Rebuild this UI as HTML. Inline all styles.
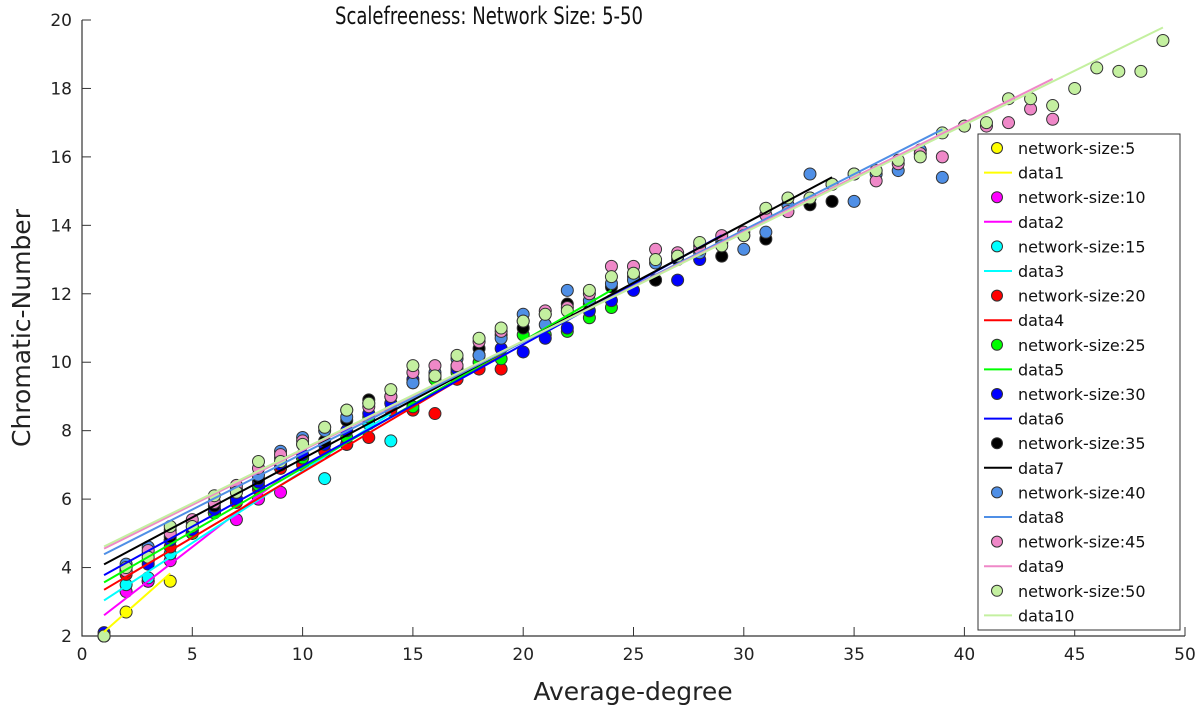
<!DOCTYPE html>
<html><head><meta charset="utf-8"><style>body{margin:0;background:#fff}svg{display:block;font-family:"DejaVu Sans","Liberation Sans",sans-serif}</style></head>
<body>
<svg id="c" width="1200" height="711"></svg>
<script>
const xTicks=[0,5,10,15,20,25,30,35,40,45,50];
const yTicks=[2,4,6,8,10,12,14,16,18,20];
const seriesNames=["network-size:5","network-size:10","network-size:15","network-size:20","network-size:25","network-size:30","network-size:35","network-size:40","network-size:45","network-size:50"];
const fitNames=["data1","data2","data3","data4","data5","data6","data7","data8","data9","data10"];
const colors=["#ffff00","#ff00ff","#00ffff","#ff0000","#00ff00","#0000ff","#000000","#4f8fe6","#ef88c8","#c4f0a0"];
const s5=[2.0,2.7,3.6,3.6];
const s10=[2.0,3.3,3.6,4.2,5.1,5.6,5.4,6.0,6.2];
const s15=[2.0,3.5,3.7,4.4,5.0,5.7,6.0,6.3,6.9,7.2,6.6,7.6,8.2,7.7];
const s20=[2.0,3.8,4.2,4.6,5.0,5.6,5.9,6.3,6.9,7.0,7.4,7.6,7.8,8.6,8.6,8.5,9.5,9.8,9.8];
const s25=[2.0,3.9,4.2,4.8,5.0,5.6,6.0,6.4,7.0,7.2,7.6,7.8,8.4,8.8,8.7,9.5,9.7,10.0,10.1,10.8,10.8,10.9,11.3,11.6];
const s30=[2.1,3.9,4.1,4.8,5.1,5.7,6.0,6.5,7.0,7.3,7.6,8.0,8.5,8.8,9.5,9.6,9.8,10.2,10.4,10.3,10.7,11.0,11.5,11.8,12.1,12.4,12.4,13.0,13.5];
const s35=[2.0,4.0,4.4,4.9,5.2,5.8,6.2,6.6,7.2,7.6,7.7,8.3,8.9,9.0,9.4,9.6,9.9,10.4,10.8,11.0,11.4,11.7,11.7,12.2,12.5,12.4,13.0,13.4,13.1,13.7,13.6,14.6,14.6,14.7];
const s40=[2.0,4.1,4.6,5.1,5.3,5.9,6.3,6.7,7.4,7.8,8.0,8.4,8.8,9.0,9.4,9.7,10.1,10.2,10.7,11.4,11.1,12.1,11.8,12.3,12.4,12.9,13.1,13.2,13.6,13.3,13.8,14.6,15.5,15.2,14.7,15.5,15.6,16.2,15.4];
const s45=[2.0,3.9,4.5,5.0,5.4,5.9,6.4,6.9,7.3,7.7,8.1,8.6,8.7,9.0,9.7,9.9,9.9,10.6,10.9,11.2,11.5,11.6,12.0,12.8,12.8,13.3,13.2,13.3,13.7,13.8,14.3,14.4,14.8,15.2,15.5,15.3,15.8,16.1,16.0,16.9,16.9,17.0,17.4,17.1];
const s50=[2.0,4.0,4.3,5.2,5.2,6.1,6.2,7.1,7.1,7.6,8.1,8.6,8.8,9.2,9.9,9.6,10.2,10.7,11.0,11.2,11.4,11.5,12.1,12.5,12.6,13.0,13.1,13.5,13.4,13.7,14.5,14.8,14.8,15.2,15.5,15.6,15.9,16.0,16.7,16.9,17.0,17.7,17.7,17.5,18.0,18.6,18.5,18.5,19.4];
const allSeries=[s5,s10,s15,s20,s25,s30,s35,s40,s45,s50];

const svg=document.getElementById('c');const NS='http://www.w3.org/2000/svg';
const X0=82,X1=1185,Y0=636,Y1=20;
const sx=v=>X0+(v-0)/(50-0)*(X1-X0);
const sy=v=>Y0-(v-2)/(20-2)*(Y0-Y1);
function mk(t,a,p){const e=document.createElementNS(NS,t);for(const k in a)e.setAttribute(k,a[k]);(p||svg).appendChild(e);return e;}
const ax=mk('path',{d:`M${X0},${Y1}V${Y0}H${X1}`,fill:'none',stroke:'#333','stroke-width':1.2});


xTicks.forEach(t=>{
  const l=mk('line',{x1:sx(t),x2:sx(t),y1:Y0,y2:Y0-9,stroke:'#333'});
  
  
  const tx=mk('text',{x:sx(t),y:Y0+24,'text-anchor':'middle','font-size':17,fill:'#222'});tx.textContent=t;
  
  
});
yTicks.forEach(t=>{
  const l=mk('line',{x1:X0,x2:X0+9,y1:sy(t),y2:sy(t),stroke:'#333'});
  
  
  const tx=mk('text',{x:X0-10,y:sy(t)+6,'text-anchor':'end','font-size':17,fill:'#222'});tx.textContent=t;
  
  
});
const title=mk('text',{x:489,y:24,'text-anchor':'middle','font-size':24,fill:'#111',textLength:308,lengthAdjust:'spacingAndGlyphs'});title.textContent='Scalefreeness: Network Size: 5-50';


const xl=mk('text',{x:633,y:700,'text-anchor':'middle','font-size':25,fill:'#222'});xl.textContent='Average-degree';


const yl=mk('text',{x:0,y:0,'text-anchor':'middle','font-size':25,fill:'#222',transform:'translate(30,328) rotate(-90)'});yl.textContent='Chromatic-Number';


allSeries.forEach((s,i)=>{
  const g=mk('g',{});
  
  
  s.forEach((v,j)=>{
    const c=mk('circle',{cx:sx(j+1),cy:sy(v),r:6,fill:colors[i],stroke:'#333','stroke-width':1},g);
    
    
  });
});
allSeries.forEach((s,i)=>{
  const n=s.length;let mx=0,my=0;s.forEach((v,j)=>{mx+=j+1;my+=v});mx/=n;my/=n;
  let num=0,den=0;s.forEach((v,j)=>{num+=(j+1-mx)*(v-my);den+=(j+1-mx)*(j+1-mx)});
  const b=num/den,a=my-b*mx;
  const l=mk('line',{x1:sx(1),y1:sy(a+b),x2:sx(n),y2:sy(a+b*n),stroke:colors[i],'stroke-width':2});
  
  
});
const lg=mk('g',{});


mk('rect',{x:978,y:134,width:202,height:496,fill:'#fff',stroke:'#333','stroke-width':1},lg);
for(let i=0;i<10;i++){
  const y1=148+i*2*24.6,y2=y1+24.6;
  const c=mk('circle',{cx:997,cy:y1,r:5.5,fill:colors[i],stroke:'#333'},lg);
  
  
  const t=mk('text',{x:1018,y:y1+6,'font-size':16,fill:'#111'},lg);t.textContent=seriesNames[i];
  
  
  const l=mk('line',{x1:984,x2:1012,y1:y2,y2:y2,stroke:colors[i],'stroke-width':2},lg);
  
  
  const t2=mk('text',{x:1018,y:y2+6,'font-size':16,fill:'#111'},lg);t2.textContent=fitNames[i];
  
  
}
</script>
</body></html>
